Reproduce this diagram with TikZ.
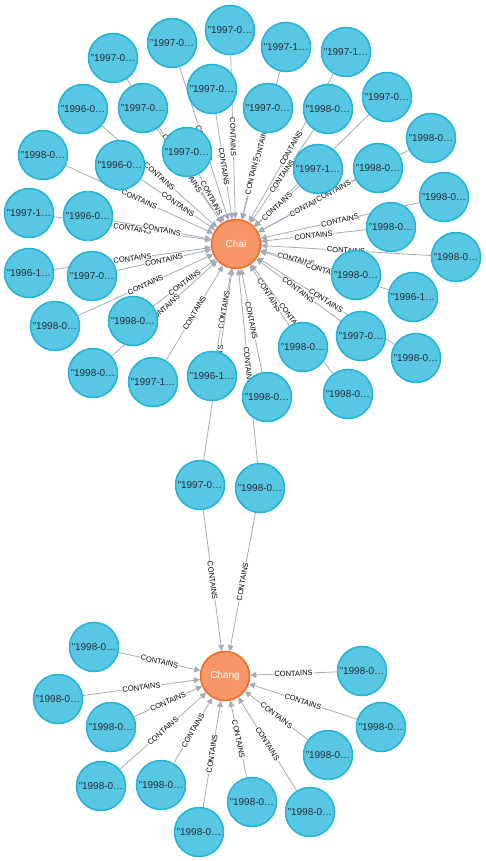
\documentclass[tikz,border=0pt]{standalone}
\usepackage{fontspec}
\setmainfont{Liberation Sans}
\usetikzlibrary{arrows.meta,backgrounds}
\definecolor{ordfill}{HTML}{57C7E3}
\definecolor{orddraw}{HTML}{23B3D7}
\definecolor{prodfill}{HTML}{F79767}
\definecolor{proddraw}{HTML}{F36924}
\definecolor{relgray}{HTML}{A5ABB6}
\definecolor{txt}{HTML}{2A2C34}

\begin{document}
\begin{tikzpicture}[x=1pt,y=-1pt,
  o/.style={circle,draw=orddraw,line width=1.5pt,fill=ordfill,minimum size=49pt,inner sep=0pt,font=\fontsize{10}{12}\selectfont,text=txt},
  p/.style={circle,draw=proddraw,line width=1.5pt,fill=prodfill,minimum size=49pt,inner sep=0pt,font=\fontsize{10}{12}\selectfont,text=white},
  r/.style={draw=relgray,line width=0.8pt,-{Triangle[length=6pt,width=6pt]}},
  rl/.style={font=\fontsize{7.5}{8}\selectfont,fill=white,inner sep=0.8pt,sloped,midway}]
  % products
  \node[p] (chai) at (236,244) {Chai};
  \node[p] (chang) at (225,676) {Chang};
  % orders of Chai
  \node[o] (o1) at (230,30) {"1997-0…};
  \node[o] (o2) at (172,43) {"1997-0…};
  \node[o] (o3) at (113,58) {"1997-0…};
  \node[o] (o4) at (286,47) {"1997-1…};
  \node[o] (o5) at (346,52) {"1997-1…};
  \node[o] (o6) at (83,109) {"1996-0…};
  \node[o] (o7) at (143,108) {"1997-0…};
  \node[o] (o8) at (212,89) {"1997-0…};
  \node[o] (o9) at (268,108) {"1997-0…};
  \node[o] (o10) at (328,109) {"1998-0…};
  \node[o] (o11) at (387,97) {"1997-0…};
  \node[o] (o12) at (43,155) {"1998-0…};
  \node[o] (o13) at (120,165) {"1996-0…};
  \node[o] (o14) at (187,152) {"1997-0…};
  \node[o] (o15) at (318,169) {"1997-1…};
  \node[o] (o16) at (378,168) {"1998-0…};
  \node[o] (o17) at (431,138) {"1998-0…};
  \node[o] (o18) at (29,213) {"1997-1…};
  \node[o] (o19) at (88,216) {"1996-0…};
  \node[o] (o20) at (444,197) {"1998-0…};
  \node[o] (o21) at (391,227) {"1998-0…};
  \node[o] (o22) at (29,273) {"1996-1…};
  \node[o] (o23) at (92,276) {"1997-0…};
  \node[o] (o24) at (456,257) {"1998-0…};
  \node[o] (o25) at (356,275) {"1998-0…};
  \node[o] (o26) at (413,297) {"1996-1…};
  \node[o] (o27) at (55,326) {"1998-0…};
  \node[o] (o28) at (133,321) {"1998-0…};
  \node[o] (o29) at (361,336) {"1997-0…};
  \node[o] (o30) at (416,358) {"1998-0…};
  \node[o] (o31) at (303,347) {"1998-0…};
  \node[o] (o32) at (348,394) {"1998-0…};
  \node[o] (o33) at (93,373) {"1998-0…};
  \node[o] (o34) at (153,382) {"1997-1…};
  \node[o] (o35) at (212,376) {"1996-1…};
  \node[o] (o36) at (267,397) {"1998-0…};
  \node[o] (o37) at (200,485) {"1997-0…};
  \node[o] (o38) at (260,488) {"1998-0…};
  % orders of Chang
  \node[o] (c1) at (94,647) {"1998-0…};
  \node[o] (c2) at (58,699) {"1998-0…};
  \node[o] (c3) at (111,727) {"1998-0…};
  \node[o] (c4) at (101,786) {"1998-0…};
  \node[o] (c5) at (161,785) {"1998-0…};
  \node[o] (c6) at (199,832) {"1998-0…};
  \node[o] (c7) at (252,802) {"1998-0…};
  \node[o] (c8) at (310,812) {"1998-0…};
  \node[o] (c9) at (328,755) {"1998-0…};
  \node[o] (c10) at (381,727) {"1998-0…};
  \node[o] (c11) at (362,671) {"1998-0…};
  \begin{pgfonlayer}{background}
    \fill[white] (0,0) rectangle (485,861);
    \useasboundingbox (0,0) rectangle (485,861);
    \foreach \i in {1,...,38}
      \draw[r] (o\i) -- node[rl] {CONTAINS} (chai);
    \draw[r] (o37) -- node[rl] {CONTAINS} (chang);
    \draw[r] (o38) -- node[rl] {CONTAINS} (chang);
    \foreach \i in {1,...,11}
      \draw[r] (c\i) -- node[rl] {CONTAINS} (chang);
  \end{pgfonlayer}
\end{tikzpicture}
\end{document}
